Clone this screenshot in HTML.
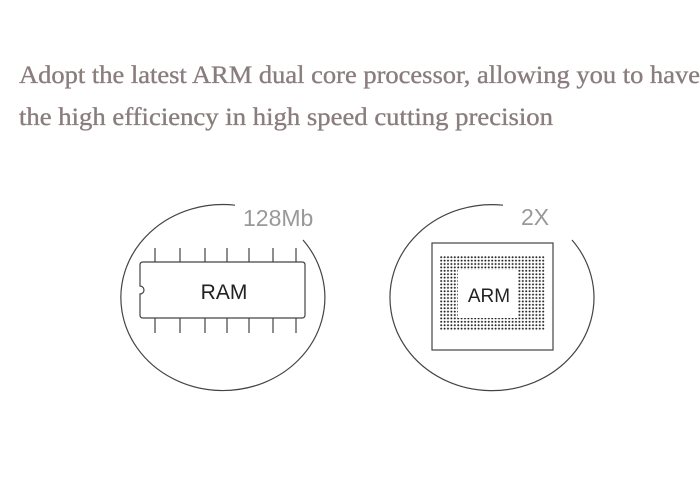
<!DOCTYPE html>
<html><head><meta charset="utf-8"><style>
html,body{margin:0;padding:0;background:#fff;}
svg{display:block}
</style></head><body>
<svg width="700" height="500" viewBox="0 0 700 500" xmlns="http://www.w3.org/2000/svg">
<defs>
<pattern id="dots" x="440" y="256" width="3.4" height="3.4" patternUnits="userSpaceOnUse">
<circle cx="1.2" cy="1.2" r="1.0" fill="#222"/>
</pattern>
</defs>
<g font-family="'Liberation Serif', serif" font-size="25" fill="#8a7d7e" stroke="#8a7d7e" stroke-width="0.35">
<text x="19" y="83" textLength="681" lengthAdjust="spacingAndGlyphs">Adopt the latest ARM dual core processor, allowing you to have</text>
<text x="19" y="125" textLength="534" lengthAdjust="spacingAndGlyphs">the high efficiency in high speed cutting precision</text>
</g>
<g fill="none" stroke="#444" stroke-width="1.2">
<path d="M303,240 A102,93 0 1 1 235,205.2"/>
<path d="M572,240 A102,93 0 1 1 503,205.2"/>
<path d="M143,262 H302 Q305,262 305,265 V315 Q305,318 302,318 H143 Q140,318 140,315 V294 A4,4 0 0 0 140,286 V265 Q140,262 143,262 Z"/>
<path d="M155,248V262M180,248V262M205,248V262M227,248V262M249,248V262M273,248V262M296,248V262"/>
<path d="M155,318V333M180,318V333M205,318V333M227,318V333M249,318V333M273,318V333M296,318V333"/>
<rect x="432" y="243" width="121" height="107"/>
</g>
<rect x="440" y="256" width="105" height="75" fill="url(#dots)"/>
<rect x="458" y="270" width="60" height="48" fill="#fff"/>
<g font-family="'Liberation Sans', sans-serif">
<text x="224" y="299" font-size="21" fill="#222" text-anchor="middle">RAM</text>
<text x="489" y="302" font-size="19" fill="#222" text-anchor="middle">ARM</text>
<text x="243" y="226" font-size="23" fill="#999">128Mb</text>
<text x="521" y="225" font-size="23" fill="#999">2X</text>
</g>
</svg>
</body></html>
